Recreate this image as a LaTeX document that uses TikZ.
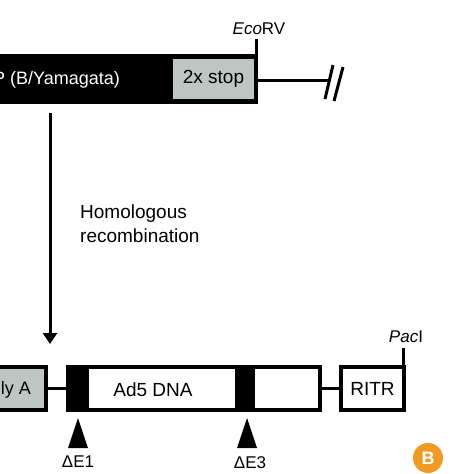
\documentclass[tikz,border=0pt]{standalone}
\usepackage{fontspec}
\setmainfont{Liberation Sans}
\usetikzlibrary{arrows.meta}
\definecolor{boxgray}{RGB}{190,198,195}
\definecolor{borange}{RGB}{242,153,36}
\begin{document}
\begin{tikzpicture}[x=1pt,y=-1pt,
  big/.style={font=\fontsize{19}{24}\selectfont, inner sep=0pt},
  small/.style={font=\fontsize{17}{20}\selectfont, inner sep=0pt},
  conn/.style={line width=3pt},
  segbox/.style={draw=black, line width=4pt, minimum height=43pt, inner sep=0pt},
  deltri/.style={fill=black}]
\useasboundingbox (0,0) rectangle (474,474);
\clip (0,0) rectangle (474,474);
% top construct
\node[fill=black, minimum width=268pt, minimum height=50pt, inner sep=0pt] (hagene) at (124,79) {};
\node[fill=boxgray, minimum width=81pt, minimum height=40pt, big] (stop) at (213.5,79) {2x stop};
\node[font=\fontsize{18}{24}\selectfont, inner sep=0pt, text=white, anchor=east] (hatext) at (120,80) {P (B/Yamagata)};
\coordinate (eco) at (256,39);
\draw[conn] (eco) -- (eco |- hagene.north);
\node[small, anchor=south] (ecolbl) at (259,35) {\textit{Eco}RV};
\coordinate (brk) at (330,80);
\draw[conn] (hagene.east |- brk) -- (brk);
\draw[conn] (325,99) -- (333,65);
\draw[conn] (334,101) -- (343,67);
% arrow
\coordinate (arrtop) at (50,113);
\coordinate (arrbot) at (50,344);
\draw[conn, -{Triangle[width=14pt,length=11pt]}] (arrtop) -- (arrbot);
\node[big, anchor=north west, align=left] (hr) at (80,205) {Homologous\\recombination};
% bottom construct
\node[segbox, fill=boxgray, minimum width=56pt] (polya) at (18,388.5) {};
\node[font=\fontsize{18}{24}\selectfont, inner sep=0pt, anchor=east] (polyatext) at (31,390) {ly A};
\node[segbox, fill=white, minimum width=252pt] (ad5) at (194,388.5) {};
\fill[black] (68,367) rectangle (89,410);
\fill[black] (235,367) rectangle (255,410);
\node[big] (ad5text) at (153,390) {Ad5 DNA};
\node[segbox, fill=white, minimum width=63pt, big] (ritr) at (372.5,388.5) {RITR};
\draw[conn] (polya.east) -- (ad5.west);
\draw[conn] (ad5.east) -- (ritr.west);
\coordinate (pac) at (403,348);
\draw[conn] (pac) -- (pac |- ritr.north);
\node[small, anchor=south] (paclbl) at (406,343) {\textit{Pac}I};
% deletions
\coordinate (e1) at (78,418);
\coordinate (e3) at (247,418);
\fill[deltri] (e1) -- ++(-10,30) -- ++(20,0) -- cycle;
\fill[deltri] (e3) -- ++(-10,30) -- ++(20,0) -- cycle;
\node[small, anchor=north] (e1lbl) at (78,456) {ΔE1};
\node[small, anchor=north] (e3lbl) at (250,456) {ΔE3};
% panel label
\node[circle, fill=borange, minimum size=30pt, inner sep=0pt, text=white, font=\fontsize{18}{20}\selectfont\bfseries] (panel) at (428,458) {B};
\end{tikzpicture}
\end{document}
